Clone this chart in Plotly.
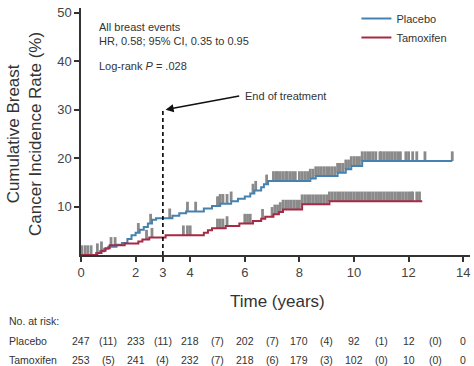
import numpy as np
import plotly.graph_objects as go

# ---------------- data ----------------
placebo_t = [0, 0.55, 0.7, 0.85, 1.0, 1.3, 1.5, 1.7, 1.85, 2.0, 2.15, 2.3, 2.45, 2.6, 2.75,
             3.35, 3.6, 3.85, 4.5, 4.8, 5.1, 5.5, 5.75, 6.0, 6.2, 6.35, 6.6, 6.7, 6.85,
             8.4, 8.6, 9.4, 9.7, 9.9, 10.3, 13.6]
placebo_v = [0, 0.4, 0.8, 1.3, 1.7, 2.1, 2.5, 3.3, 4.1, 4.6, 5.2, 5.8, 6.5, 7.3, 7.6,
             8.1, 8.6, 9.0, 9.6, 10.1, 10.6, 11.1, 11.6, 12.1, 12.7, 13.3, 14.0, 14.6, 15.3,
             15.8, 16.3, 17.0, 17.7, 18.4, 19.4, 19.4]

tamox_t = [0, 0.6, 0.75, 0.9, 1.05, 1.6, 2.1, 2.25, 2.5, 3.1, 4.5, 4.65, 4.8, 5.3, 5.8,
           6.3, 6.6, 6.75, 7.05, 7.25, 7.4, 8.1, 9.1, 12.5]
tamox_v = [0, 0.4, 0.9, 1.4, 2.0, 2.4, 2.8, 3.2, 3.6, 4.1, 4.6, 5.1, 5.5, 6.0, 6.5,
           7.0, 7.5, 7.9, 8.4, 8.9, 9.4, 10.5, 11.1, 11.1]

placebo_censor = [0.03, 0.15, 0.6, 0.75, 1.1, 1.25, 2.1, 2.55, 3.25, 3.9, 4.2, 5.0, 5.05, 5.1,
                  5.2, 5.35, 5.5, 6.3, 6.4, 6.8, 7.05, 7.15, 7.2, 7.3, 7.4, 7.5, 7.55, 7.65,
                  7.75, 7.85, 8.0, 8.1, 8.2, 8.3, 8.4, 8.5, 8.6, 8.7, 8.8, 8.9, 9.0, 9.1, 9.2,
                  9.3, 9.4, 9.5, 9.6, 9.7, 9.8, 9.9, 10.0, 10.1, 10.2, 10.3, 10.4, 10.5, 10.6,
                  10.7, 10.8, 10.95, 11.0, 11.1, 11.2, 11.3, 11.4, 11.5, 11.6, 11.7, 11.9,
                  12.0, 12.15, 12.3, 12.6, 13.6]
tamox_censor = [0.25, 0.37, 2.4, 2.6, 3.75, 3.9, 4.0, 5.0, 5.1, 5.2, 5.35, 6.0, 6.1, 6.2, 6.65,
                7.0, 7.1, 7.2, 7.3, 7.4, 7.5, 7.6, 7.7, 7.8, 7.9, 8.0, 8.1, 8.2, 8.3, 8.4,
                8.5, 8.6, 8.7, 8.8, 8.9, 9.0, 9.1, 9.2, 9.3, 9.4, 9.5, 9.6, 9.7, 9.8, 9.9,
                10.0, 10.1, 10.2, 10.3, 10.4, 10.5, 10.6, 10.7, 10.8, 10.9, 11.0, 11.1, 11.2,
                11.3, 11.4, 11.5, 11.6, 11.7, 11.8, 11.9, 12.0, 12.1, 12.15, 12.3, 12.4]

x_ticks = [0, 2, 3, 4, 6, 8, 10, 12, 14]
y_ticks = [10, 20, 30, 40, 50]

risk_years = list(range(0, 15))
risk_placebo = ["247", "(11)", "233", "(11)", "218", "(7)", "202", "(7)", "170", "(4)",
                "92", "(1)", "12", "(0)", "0"]
risk_tamox = ["253", "(5)", "241", "(4)", "232", "(7)", "218", "(6)", "179", "(3)",
              "102", "(0)", "10", "(0)", "0"]

end_of_treatment = 3
end_of_treatment_level = 30
censor_tick_height = 2

BLUE = "#4682b0"
RED = "#a52a45"
GRAY = "#8a8a8a"
TXT = "#333333"
FONT = "Liberation Sans Narrow, Arial Narrow, Liberation Sans, Arial, sans-serif"


def step_value(times, vals, t):
    idx = np.searchsorted(np.array(times), t, side="right") - 1
    return [vals[max(i, 0)] for i in idx]


fig = go.Figure()

for ct, (tt, vv) in [(placebo_censor, (placebo_t, placebo_v)),
                     (tamox_censor, (tamox_t, tamox_v))]:
    cy = step_value(tt, vv, np.array(ct))
    fig.add_trace(go.Scatter(
        x=ct, y=cy, mode="markers",
        marker=dict(size=1, color="rgba(0,0,0,0)"),
        error_y=dict(type="data", symmetric=False,
                     array=[censor_tick_height] * len(ct),
                     arrayminus=[0] * len(ct),
                     width=0, thickness=2.8, color=GRAY),
        showlegend=False, hoverinfo="skip"))

fig.add_trace(go.Scatter(x=placebo_t, y=placebo_v, mode="lines", line_shape="hv",
                         line=dict(color=BLUE, width=2), name="Placebo"))
fig.add_trace(go.Scatter(x=tamox_t, y=tamox_v, mode="lines", line_shape="hv",
                         line=dict(color=RED, width=2), name="Tamoxifen"))

fig.add_trace(go.Scatter(x=[end_of_treatment, end_of_treatment], y=[0, end_of_treatment_level],
                         mode="lines", line=dict(color="black", width=1.6, dash="4px,3px"),
                         showlegend=False, hoverinfo="skip"))

ann = []
ann.append(dict(x=end_of_treatment + 0.1, y=end_of_treatment_level, ax=5.85, ay=32.9,
                xref="x", yref="y", axref="x", ayref="y", text="", showarrow=True,
                arrowhead=2, arrowsize=1, arrowwidth=1.6, arrowcolor="#111"))
ann.append(dict(x=5.93, y=32.9, xref="x", yref="y", text="End of treatment",
                showarrow=False, xanchor="left", yanchor="middle",
                font=dict(size=11, color=TXT, family=FONT)))
ann.append(dict(x=0.58, y=47.1, xref="x", yref="y", text="All breast events",
                showarrow=False, xanchor="left", yanchor="middle",
                font=dict(size=11, color=TXT, family=FONT)))
ann.append(dict(x=0.58, y=44.2, xref="x", yref="y",
                text="HR, 0.58; 95% CI, 0.35 to 0.95",
                showarrow=False, xanchor="left", yanchor="middle",
                font=dict(size=11, color=TXT, family=FONT)))
ann.append(dict(x=0.58, y=39.0, xref="x", yref="y",
                text="Log-rank <i>P</i> = .028",
                showarrow=False, xanchor="left", yanchor="middle",
                font=dict(size=11, color=TXT, family=FONT)))

# y-axis title
ann.append(dict(x=-0.144, y=0.49, xref="paper", yref="paper",
                text="Cumulative Breast<br>Cancer Incidence Rate (%)",
                textangle=-90, showarrow=False, xanchor="center", yanchor="middle",
                font=dict(size=17, color=TXT, family=FONT)))
# x-axis title
ann.append(dict(x=0.505, y=-0.19, xref="paper", yref="paper", text="Time (years)",
                showarrow=False, xanchor="center", yanchor="middle",
                font=dict(size=17, color=TXT, family=FONT)))

# risk table
row_y = {"head": -0.268, "p": -0.35, "t": -0.424}
ann.append(dict(x=-0.19, y=row_y["head"], xref="paper", yref="paper", text="No. at risk:",
                showarrow=False, xanchor="left", yanchor="middle",
                font=dict(size=10.5, color=TXT, family=FONT)))
ann.append(dict(x=-0.19, y=row_y["p"], xref="paper", yref="paper", text="Placebo",
                showarrow=False, xanchor="left", yanchor="middle",
                font=dict(size=10.5, color=TXT, family=FONT)))
ann.append(dict(x=-0.19, y=row_y["t"], xref="paper", yref="paper", text="Tamoxifen",
                showarrow=False, xanchor="left", yanchor="middle",
                font=dict(size=10.5, color=TXT, family=FONT)))
for yr, a, b in zip(risk_years, risk_placebo, risk_tamox):
    ann.append(dict(x=yr, y=row_y["p"], xref="x", yref="paper", text=a, showarrow=False,
                    xanchor="center", yanchor="middle",
                    font=dict(size=10.5, color=TXT, family=FONT)))
    ann.append(dict(x=yr, y=row_y["t"], xref="x", yref="paper", text=b, showarrow=False,
                    xanchor="center", yanchor="middle",
                    font=dict(size=10.5, color=TXT, family=FONT)))

fig.update_layout(
    width=474, height=366,
    margin=dict(l=81, r=4, t=5, b=111),
    plot_bgcolor="white", paper_bgcolor="white",
    font=dict(family=FONT, color=TXT),
    annotations=ann,
    legend=dict(x=0.708, y=1.016, xanchor="left", yanchor="top",
                bgcolor="rgba(0,0,0,0)", font=dict(size=11, color=TXT, family=FONT),
                tracegroupgap=0),
    xaxis=dict(range=[0, 14.25], tickvals=x_ticks, showline=True, linecolor="#333",
               linewidth=1.5, ticks="outside", ticklen=5, tickwidth=1.5, tickcolor="#333",
               showgrid=False, zeroline=False, automargin=False,
               tickfont=dict(size=13, color="#444", family=FONT)),
    yaxis=dict(range=[0, 51], tickvals=y_ticks, showline=True, linecolor="#333",
               linewidth=1.5, ticks="outside", ticklen=5, tickwidth=1.5, tickcolor="#333",
               showgrid=False, zeroline=False, automargin=False,
               tickfont=dict(size=13, color="#444", family=FONT)),
)

fig.write_html("out.html", config={"displayModeBar": False},
               post_script="document.body.style.margin='0px';document.body.style.overflow='hidden';")
